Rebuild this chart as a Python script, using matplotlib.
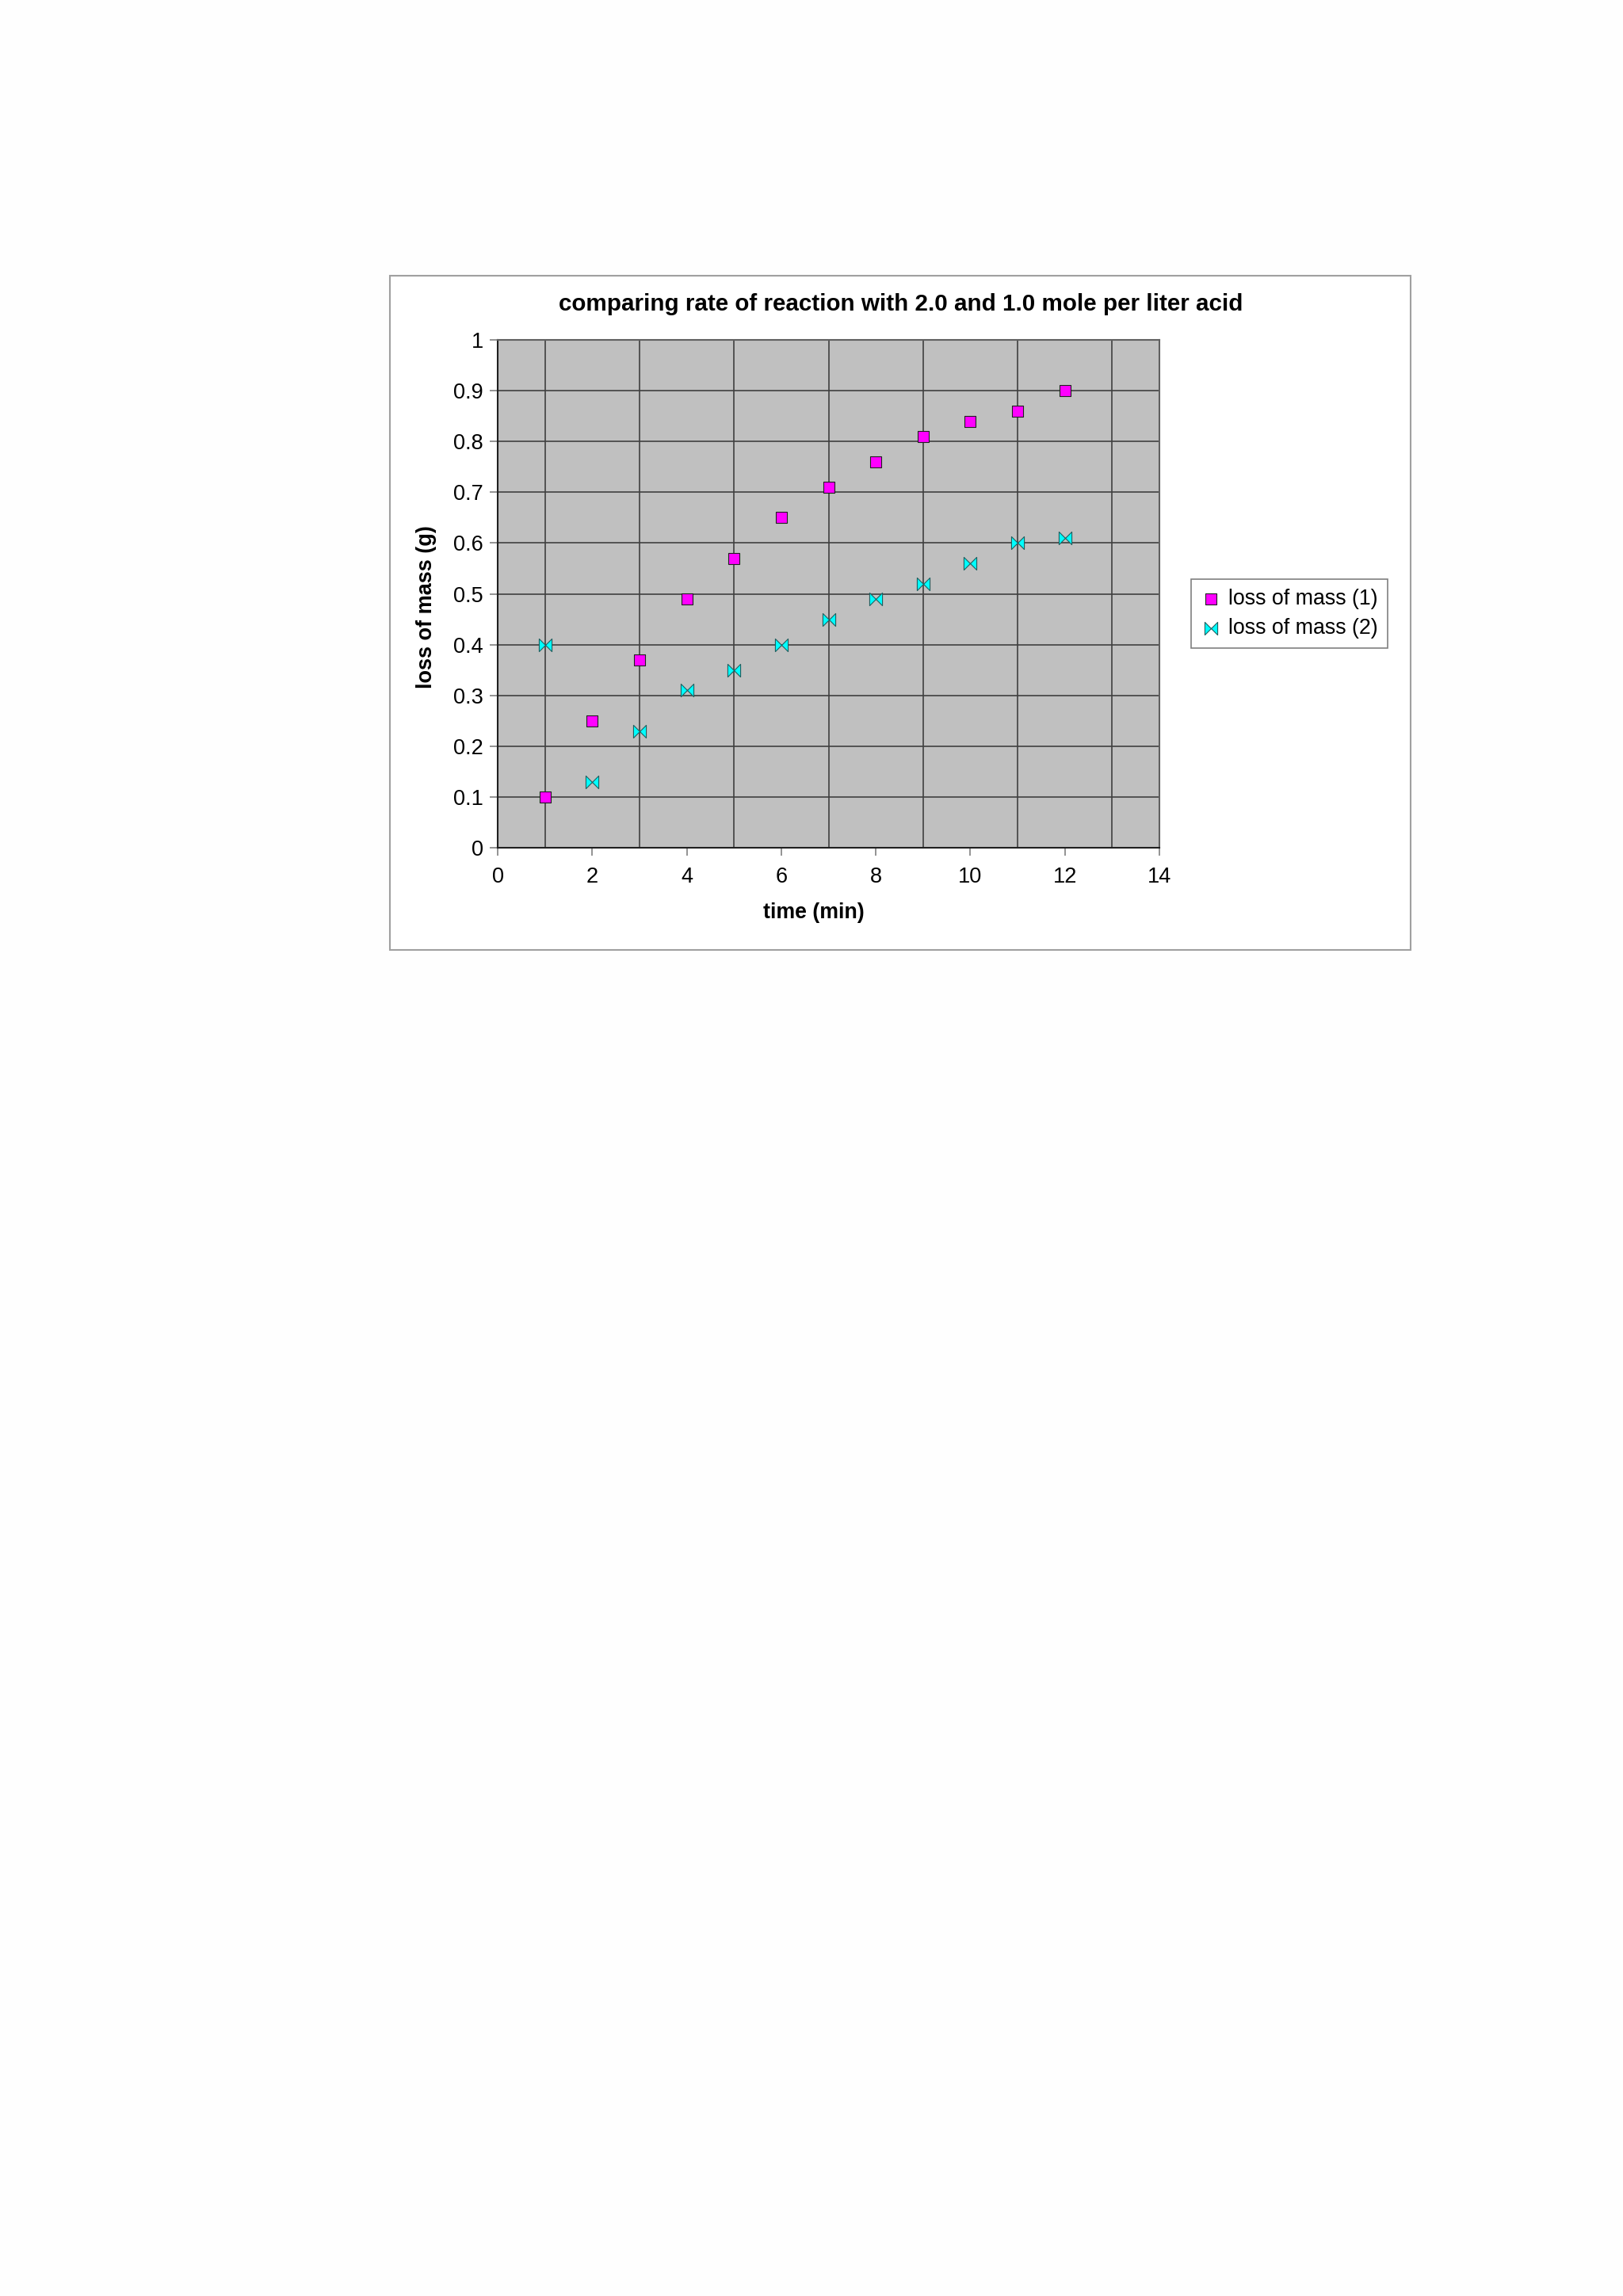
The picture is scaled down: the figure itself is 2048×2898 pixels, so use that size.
import matplotlib
matplotlib.use("Agg")
import matplotlib.pyplot as plt
from matplotlib.path import Path
from matplotlib.patches import Rectangle

# data
time_min   = [1, 2, 3, 4, 5, 6, 7, 8, 9, 10, 11, 12]
loss_mass1 = [0.10, 0.25, 0.37, 0.49, 0.57, 0.65, 0.71, 0.76, 0.81, 0.84, 0.86, 0.90]
loss_mass2 = [0.40, 0.13, 0.23, 0.31, 0.35, 0.40, 0.45, 0.49, 0.52, 0.56, 0.60, 0.61]
x_ticks    = [0, 2, 4, 6, 8, 10, 12, 14]
y_ticks    = [0, 0.1, 0.2, 0.3, 0.4, 0.5, 0.6, 0.7, 0.8, 0.9, 1]
y_labels   = ["0", "0.1", "0.2", "0.3", "0.4", "0.5", "0.6", "0.7", "0.8", "0.9", "1"]
v_grid     = [1, 3, 5, 7, 9, 11, 13]

plt.rcParams["font.family"] = ["Liberation Sans", "DejaVu Sans"]

W, H = 2048, 2898
fig = plt.figure(figsize=(W / 100, H / 100), dpi=100, facecolor="#fefefe")

# Excel-style "bowtie" marker
bowtie = Path(
    [(-1, -1), (0, 0), (-1, 1), (-1, -1), (1, -1), (0, 0), (1, 1), (1, -1)],
    [Path.MOVETO, Path.LINETO, Path.LINETO, Path.CLOSEPOLY,
     Path.MOVETO, Path.LINETO, Path.LINETO, Path.CLOSEPOLY],
)

# chart area frame (behind the axes)
fig.patches.append(Rectangle((492 / W, 1 - 1199 / H), 1288 / W, 851 / H,
                             transform=fig.transFigure, facecolor="white",
                             edgecolor="#a0a0a0", linewidth=1.5, zorder=-5))

ax = fig.add_axes([628 / W, 1 - 1070 / H, 835 / W, 641 / H])
ax.set_zorder(1)
ax.set_facecolor("#c0c0c0")
ax.set_xlim(0, 14)
ax.set_ylim(0, 1)

for v in v_grid:
    ax.axvline(v, color="#404040", linewidth=1.2, zorder=1)
for v in y_ticks[1:-1]:
    ax.axhline(v, color="#404040", linewidth=1.2, zorder=1)

ax.scatter(time_min, loss_mass1, marker="s", s=115, facecolor="#ff00ff",
           edgecolor="#202020", linewidth=0.8, zorder=3, label="loss of mass (1)")
ax.scatter(time_min, loss_mass2, marker=bowtie, s=135, facecolor="#00ffff",
           edgecolor="#206060", linewidth=0.8, zorder=3, label="loss of mass (2)")

ax.set_xticks(x_ticks)
ax.set_xticklabels([str(t) for t in x_ticks])
ax.set_yticks(y_ticks)
ax.set_yticklabels(y_labels)
ax.tick_params(axis="both", direction="out", length=7, width=1.2,
               color="#808080", labelsize=19.5, pad=6)
ax.tick_params(axis="x", pad=10)

for side in ("left", "bottom"):
    ax.spines[side].set_color("#202020")
    ax.spines[side].set_linewidth(1.5)
for side in ("top", "right"):
    ax.spines[side].set_color("#606060")
    ax.spines[side].set_linewidth(1.5)

fig.text(1137 / W, 1 - 384 / H,
         "comparing rate of reaction with 2.0 and 1.0 mole per liter acid",
         ha="center", va="center", fontsize=21.3, fontweight="bold")
fig.text(1027 / W, 1 - 1152 / H, "time (min)", ha="center", va="center",
         fontsize=19.3, fontweight="bold")
fig.text(538 / W, 1 - 766 / H, "loss of mass (g)", ha="center", va="center",
         rotation=90, fontsize=19.5, fontweight="bold")

leg = ax.legend(loc="upper left", bbox_to_anchor=(1503 / W, 1 - 731 / H),
                bbox_transform=fig.transFigure, frameon=True, fancybox=False,
                fontsize=19.3, handletextpad=0.3, handlelength=1.0,
                borderpad=0.45, labelspacing=0.42, borderaxespad=0)
leg.get_frame().set_edgecolor("#808080")
leg.get_frame().set_linewidth(1.2)
leg.get_frame().set_facecolor("white")
leg.get_frame().set_alpha(1)

fig.savefig("out.png", dpi=100, facecolor=fig.get_facecolor())
